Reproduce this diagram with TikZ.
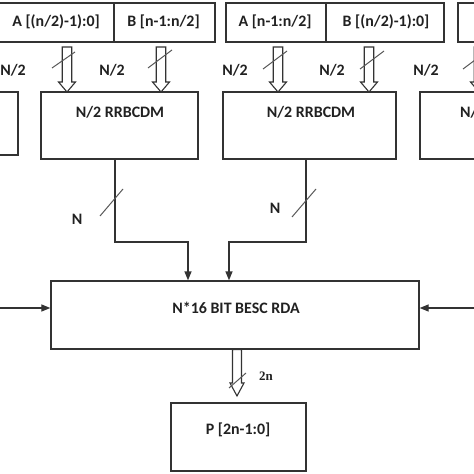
\documentclass[tikz,border=0pt]{standalone}
\usepackage{fontspec}
\setmainfont{Carlito}
\newfontfamily\numserif{Liberation Serif}
\usetikzlibrary{arrows.meta}
\definecolor{ln}{gray}{0.2}
\definecolor{tx}{gray}{0.13}
\definecolor{sl}{gray}{0.35}
\newcommand\blockarr[6]{%
  \draw[barrow] (#1-#4,#2) -- (#1+#4,#2) -- (#1+#4,#3-#6) -- (#1+#5,#3-#6) -- (#1,#3)
    -- (#1-#5,#3-#6) -- (#1-#4,#3-#6) -- cycle;}
\begin{document}
\begin{tikzpicture}[x=1bp,y=-1bp,
  box/.style={draw=ln, line width=1.3bp, rectangle, inner sep=0pt},
  lbl/.style={font=\bfseries\fontsize{16}{19}\selectfont, text=tx, inner sep=0pt},
  barrow/.style={draw=ln, line width=1.1bp, fill=white},
  slash/.style={draw=sl, line width=1bp},
  wire/.style={draw=ln, line width=1.3bp},
  arr/.style={wire, -{Triangle[length=9bp,width=7bp]}}]
\useasboundingbox (0,0) rectangle (474,474);
\clip (0,0) rectangle (474,474);
\fill[white] (0,0) rectangle (474,474);

% top row
\node[box, minimum width=116bp, minimum height=39bp] (T1) at (56,22.5) {};
\node[box, minimum width=101bp, minimum height=39bp] (T2) at (164.5,22.5) {};
\node[box, minimum width=100bp, minimum height=39bp] (T3) at (276,22.5) {};
\node[box, minimum width=118bp, minimum height=39bp] (T4) at (385,22.5) {};
\node[box, minimum width=62bp, minimum height=39bp] (T5) at (489,22.5) {};
\node[lbl] (t1) at (56,22) {A [(n/2)-1):0]};
\node[lbl] (t2) at (163.5,22) {B [n-1:n/2]};
\node[lbl] (t3) at (275,22) {A [n-1:n/2]};
\node[lbl] (t4) at (386,22) {B [(n/2)-1):0]};

% lower row
\node[box, minimum width=68bp, minimum height=63bp] (L0) at (-16,123.5) {};
\node[box, minimum width=157bp, minimum height=67bp] (L1) at (119.5,125.5) {};
\node[box, minimum width=173bp, minimum height=67bp] (L2) at (309.5,125.5) {};
\node[box, minimum width=160bp, minimum height=67bp] (L3) at (500,125.5) {};
\node[lbl] (l1) at (120,112) {N/2 RRBCDM};
\node[lbl] (l2) at (311,112) {N/2 RRBCDM};
\node[lbl, anchor=west] (l3) at (460,112) {N/2 RRBCDM};

% block arrows into the lower row
\blockarr{67}{47}{92}{4.75}{8.5}{10}
\blockarr{161}{47}{92}{4.75}{8.5}{10}
\blockarr{278}{47}{92}{4.75}{8.5}{10}
\blockarr{369}{47}{92}{4.75}{8.5}{10}
\blockarr{479}{47}{92}{4.75}{8.5}{10}
\draw[slash] (52,68) -- (75,52);
\draw[slash] (148,68) -- (172,50);
\draw[slash] (263,69) -- (287,51);
\draw[slash] (360,69) -- (384,51);
\draw[slash] (463,69) -- (487,51);
\node[lbl] (n1) at (13,70) {N/2};
\node[lbl] (n2) at (112,70) {N/2};
\node[lbl] (n3) at (235,70) {N/2};
\node[lbl] (n4) at (332,70) {N/2};
\node[lbl] (n5) at (426,70) {N/2};

% adder
\node[box, minimum width=368bp, minimum height=68bp] (Big) at (235,315) {};
\node[lbl] (bigl) at (236,308) {N*16 BIT BESC RDA};

\coordinate (c1) at (115,242);
\coordinate (c2) at (188,242);
\coordinate (c3) at (306,242);
\coordinate (c4) at (229,242);
\draw[arr] (L1.south -| c1) -- (c1) -- (c2) -- (Big.north -| c2);
\draw[arr] (L2.south -| c3) -- (c3) -- (c4) -- (Big.north -| c4);
\draw[slash] (100,216) -- (123,189);
\draw[slash] (292,217) -- (316,189);
\node[lbl] (w1) at (77,219) {N};
\node[lbl] (w2) at (275,208) {N};

\coordinate (lin) at (0,308);
\coordinate (rin) at (474,308);
\draw[arr] (lin) -- (Big.west |- lin);
\draw[arr] (rin) -- (Big.east |- rin);

% output
\node[box, minimum width=135bp, minimum height=68bp] (P) at (238.5,437) {};
\node[lbl] (pl) at (238,430) {P [2n-1:0]};
\blockarr{237}{349.6}{396}{4.5}{7}{13}
\draw[slash] (229,388) -- (246,373);
\node[inner sep=0pt, text=tx, font=\numserif\bfseries\fontsize{13}{15}\selectfont] (twon) at (266,376) {2n};
\end{tikzpicture}
\end{document}
